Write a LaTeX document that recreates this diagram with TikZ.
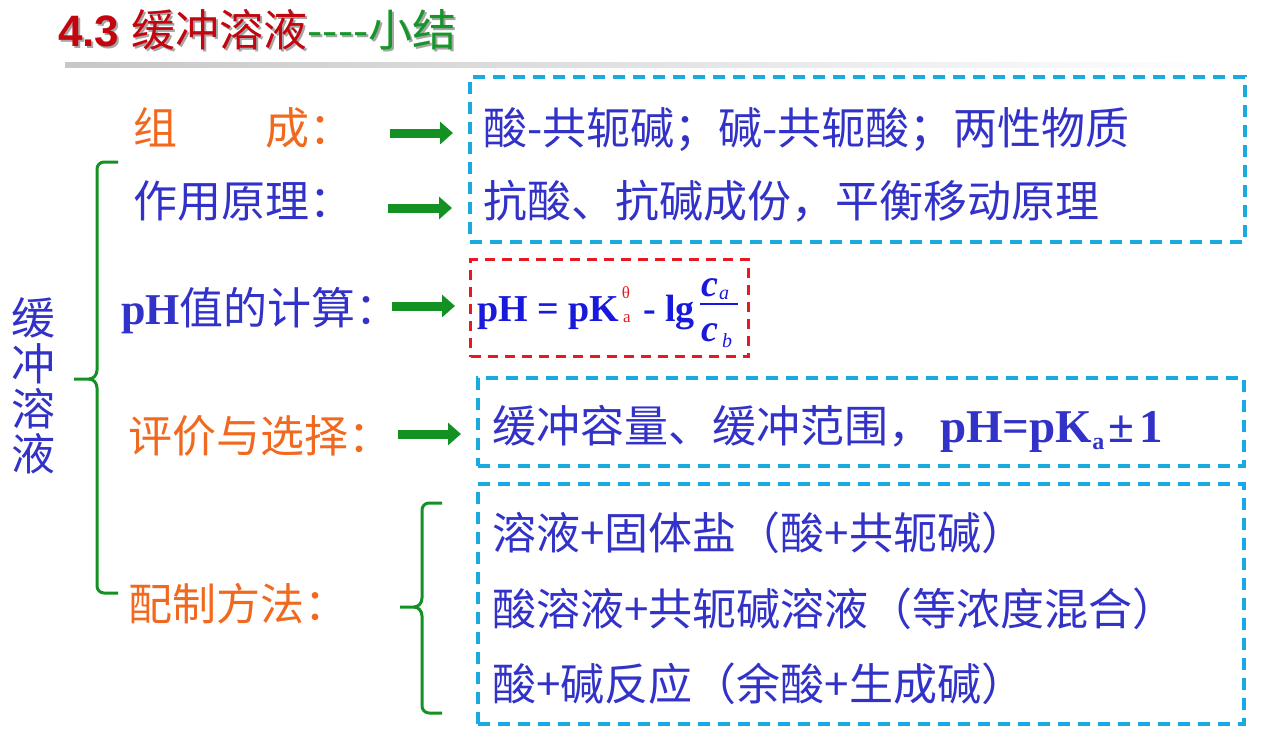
\documentclass[tikz,border=0pt]{standalone}
\usepackage{fontspec}
\setmainfont{Liberation Serif}
\newfontfamily\cjk{Noto Sans CJK SC}
\newfontfamily\arialf{Liberation Sans}
\usetikzlibrary{arrows.meta}
\definecolor{tblue}{RGB}{50,50,200}
\definecolor{fblue}{RGB}{25,25,220}
\definecolor{torange}{RGB}{240,105,30}
\definecolor{garr}{RGB}{20,145,35}
\definecolor{cyanb}{RGB}{25,170,225}
\definecolor{redb}{RGB}{230,25,35}
\definecolor{tred}{RGB}{195,5,15}
\definecolor{tgreen}{RGB}{20,150,40}
\begin{document}
\begin{tikzpicture}[x=1pt,y=-1pt,
  lbl/.style={anchor=base west, inner sep=0pt, font=\cjk\fontsize{44}{48}\selectfont},
  boxb/.style={draw=cyanb, line width=3.5pt, dash pattern=on 12pt off 8pt, anchor=north west, inner sep=0pt},
  boxr/.style={draw=redb, line width=3pt, dash pattern=on 10pt off 7pt, anchor=north west, inner sep=0pt},
  garrow/.style={draw=garr, line width=9pt, -{Triangle[length=13pt,width=22pt]}},
  bracestyle/.style={draw=garr, line width=3pt},
  fml/.style={anchor=base west, inner sep=0pt, text=fblue, font=\rmfamily\bfseries\fontsize{38}{38}\selectfont},
  small/.style={inner sep=0pt, font=\rmfamily\fontsize{17}{17}\selectfont, text=redb}]
\useasboundingbox (0,0) rectangle (1270,745);
% title
\shade[left color=black!22, right color=white] (65,62) rectangle (1235,67);
\node[anchor=base west, inner sep=0pt, text=black!35, font=\fontsize{44}{48}\selectfont] (titleshadow) at (60,48)
  {{\arialf\bfseries 4.3 }{\cjk 缓冲溶液----小结}};
\node[anchor=base west, inner sep=0pt, font=\fontsize{44}{48}\selectfont] (title) at (58,46)
  {{\arialf\bfseries\color{tred}4.3 }{\cjk\color{tred}缓冲溶液}{\cjk\color{tgreen}----小结}};
% boxes
\node[boxb, minimum width=775pt, minimum height=165pt] (box1) at (468,75) {};
\node[boxr, minimum width=278pt, minimum height=97pt] (box2) at (469,258) {};
\node[boxb, minimum width=766pt, minimum height=88pt] (box3) at (476,376) {};
\node[boxb, minimum width=766pt, minimum height=240pt] (box4) at (476,482) {};
% left vertical label
\node[inner sep=0pt, align=center, text=tblue, font=\cjk\fontsize{44}{45.3}\selectfont] (main) at (34,386) {缓\\冲\\溶\\液};
% left labels
\node[lbl, text=torange] (l1) at (133,144) {组　　成：};
\node[lbl, text=tblue] (l2) at (133,217) {作用原理：};
\node[lbl, text=tblue] (l3) at (121,324) {{\rmfamily\bfseries pH}值的计算：};
\node[lbl, text=torange] (l4) at (128,452) {评价与选择：};
\node[lbl, text=torange] (l5) at (128,620) {配制方法：};
% box texts
\node[lbl, text=tblue] (t1) at (483,144) {酸-共轭碱；碱-共轭酸；两性物质};
\node[lbl, text=tblue] (t2) at (483,217) {抗酸、抗碱成份，平衡移动原理};
\node[lbl, text=tblue] (t4) at (492,442) {缓冲容量、缓冲范围，\hspace{8pt}{\rmfamily\bfseries\fontsize{47}{48}\selectfont pH=pK\raisebox{-7pt}{\fontsize{24}{24}\selectfont a}\hspace{4pt}±\hspace{5pt}1}};
\node[lbl, text=tblue] (t5) at (492,549) {溶液+固体盐（酸+共轭碱）};
\node[lbl, text=tblue] (t6) at (492,625) {酸溶液+共轭碱溶液（等浓度混合）};
\node[lbl, text=tblue] (t7) at (492,700) {酸+碱反应（余酸+生成碱）};
% formula
\node[fml] (f1) at (477,321) {pH = pK};
\node[small] (fth) at (626,293) {θ};
\node[small] (fsub) at (627,319) {a};
\node[fml] (f2) at (643,321) {- lg};
\node[fml, font=\rmfamily\bfseries\itshape\fontsize{38}{38}\selectfont] (fca) at (701,296) {c};
\node[anchor=base west, inner sep=0pt, text=fblue, font=\rmfamily\itshape\fontsize{20}{20}\selectfont] (fsa) at (719,299) {a};
\coordinate (barl) at (700,304);
\coordinate (barr) at (738,304);
\draw[fblue, line width=2pt] (barl) -- (barr);
\node[fml, font=\rmfamily\bfseries\itshape\fontsize{38}{38}\selectfont] (fcb) at (701,341) {c};
\node[anchor=base west, inner sep=0pt, text=fblue, font=\rmfamily\itshape\fontsize{20}{20}\selectfont] (fsb) at (722,347) {b};
% arrows
\coordinate (a1s) at (390,133); \coordinate (a1e) at (453,133);
\coordinate (a2s) at (388,208); \coordinate (a2e) at (452,208);
\coordinate (a3s) at (392,306); \coordinate (a3e) at (455,306);
\coordinate (a4s) at (398,434); \coordinate (a4e) at (461,434);
\draw[garrow] (a1s) -- (a1e);
\draw[garrow] (a2s) -- (a2e);
\draw[garrow] (a3s) -- (a3e);
\draw[garrow] (a4s) -- (a4e);
% left brace
\coordinate (lbt) at (118,162);
\coordinate (lbb) at (118,593);
\coordinate (lbm) at (74,379);
\draw[bracestyle] (lbt) -- (104,162) to[out=180,in=90] (97,169) -- (97,370)
  to[out=-90,in=0] (89,379) -- (lbm);
\draw[bracestyle] (89,379) to[out=0,in=90] (97,388) -- (97,586)
  to[out=-90,in=180] (104,593) -- (lbb);
% right brace
\coordinate (rbt) at (442,503);
\coordinate (rbb) at (442,713);
\coordinate (rbm) at (400,607);
\draw[bracestyle] (rbt) -- (429,503) to[out=180,in=90] (422,510) -- (422,598)
  to[out=-90,in=0] (414,607) -- (rbm);
\draw[bracestyle] (414,607) to[out=0,in=90] (422,616) -- (422,706)
  to[out=-90,in=180] (429,713) -- (rbb);
\end{tikzpicture}
\end{document}
